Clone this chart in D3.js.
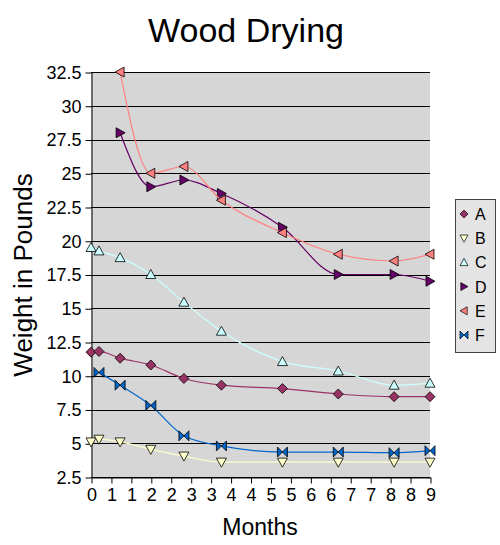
<!DOCTYPE html>
<html><head><meta charset="utf-8">
<script src="https://cdn.jsdelivr.net/npm/d3@7"></script>
<style>body{margin:0;background:#fff}text{font-family:"Liberation Sans",Arial,sans-serif;fill:#000}</style>
</head><body><svg id="c" width="500" height="545"></svg>
<script>
const months = [0, 0.2, 0.73, 1.5, 2.33, 3.27, 4.8, 6.2, 7.6, 8.5];
const seriesNames = ["A", "B", "C", "D", "E", "F"];
const seriesA = [11.75, 11.8, 11.3, 10.8, 9.8, 9.3, 9.05, 8.65, 8.45, 8.45];
const seriesB = [5.1, 5.3, 5.1, 4.55, 4.05, 3.6, 3.6, 3.6, 3.6, 3.6];
const seriesC = [19.5, 19.25, 18.75, 17.5, 15.45, 13.3, 11.05, 10.35, 9.3, 9.45];
const seriesD = [null, null, 28.0, 24.0, 24.5, 23.5, 21.0, 17.5, 17.5, 17.0];
const seriesE = [null, null, 32.5, 25.0, 25.5, 23.0, 20.6, 19.0, 18.5, 19.0];
const seriesF = [null, 10.25, 9.3, 7.8, 5.55, 4.8, 4.35, 4.35, 4.3, 4.45];
const xTickValues = [0, 0.5, 1, 1.5, 2, 2.5, 3, 3.5, 4, 4.5, 5, 5.5, 6, 6.5, 7, 7.5, 8, 8.5];
const xTickLabels = ["0","1","1","2","2","3","3","4","4","5","5","6","6","7","7","8","8","9"];
const yTickValues = [2.5, 5, 7.5, 10, 12.5, 15, 17.5, 20, 22.5, 25, 27.5, 30, 32.5];
const yTickLabels = ["2.5","5","7.5","10","12.5","15","17.5","20","22.5","25","27.5","30","32.5"];

const allSeries = [seriesA, seriesB, seriesC, seriesD, seriesE, seriesF];
const colors = ["#993366", "#FFFFCC", "#CCFFFF", "#660066", "#FF8080", "#0066CC"];
const shapes = ["diamond", "down", "up", "right", "left", "bowtie"];

const svg = d3.select("#c");
const L = 91, R = 430, T = 72, B = 477;
const x = d3.scaleLinear().domain([0, 8.5]).range([L, R]);
const y = d3.scaleLinear().domain([2.5, 32.5]).range([B, T]);

// plot area
svg.append("rect").attr("x", L).attr("y", T).attr("width", R - L).attr("height", B - T)
  .attr("fill", "#d6d6d6");

// gridlines
svg.append("g").selectAll("line").data(yTickValues).join("line")
  .attr("x1", L).attr("x2", R)
  .attr("y1", d => Math.round(y(d)) + 0.5).attr("y2", d => Math.round(y(d)) + 0.5)
  .attr("stroke", "#000").attr("stroke-width", 1);

// axes
const yAxis = d3.axisLeft(y).tickValues(yTickValues)
  .tickFormat((d, i) => yTickLabels[i]).tickSize(6).tickSizeOuter(0).tickPadding(4);
const gy = svg.append("g").attr("transform", `translate(${L + 0.5},0.5)`).call(yAxis);
gy.selectAll("text").attr("font-size", 18).attr("font-family", '"Liberation Sans",Arial,sans-serif');
gy.selectAll("line,path").attr("stroke", "#000");

const xAxis = d3.axisBottom(x).tickValues(xTickValues)
  .tickFormat((d, i) => xTickLabels[i]).tickSize(6).tickSizeOuter(0).tickPadding(5);
const gx = svg.append("g").attr("transform", `translate(0.5,${B + 0.5})`).call(xAxis);
gx.selectAll("text").attr("font-size", 18).attr("font-family", '"Liberation Sans",Arial,sans-serif');
gx.selectAll("line,path").attr("stroke", "#000");

// marker paths
function markerPath(shape, s) {
  const h = s / 2;
  switch (shape) {
    case "diamond": return `M0,${-h}L${h},0L0,${h}L${-h},0Z`;
    case "down": return `M${-h},${-h * 0.8}L${h},${-h * 0.8}L0,${h}Z`;
    case "up": return `M${-h},${h * 0.8}L${h},${h * 0.8}L0,${-h}Z`;
    case "right": return `M${-h * 0.8},${-h}L${h},0L${-h * 0.8},${h}Z`;
    case "left": return `M${h * 0.8},${-h}L${-h},0L${h * 0.8},${h}Z`;
    case "bowtie": return `M${-h},${-h}L0,0L${-h},${h}Z M${h},${-h}L0,0L${h},${h}Z`;
  }
}

const line = d3.line()
  .defined(d => d[1] != null)
  .x(d => x(d[0])).y(d => y(d[1]))
  .curve(d3.curveMonotoneX);

allSeries.forEach((vals, si) => {
  const pts = months.map((m, i) => [m, vals[i]]).filter(d => d[1] != null);
  const g = svg.append("g");
  g.append("path").datum(pts).attr("d", line)
    .attr("fill", "none").attr("stroke", colors[si]).attr("stroke-width", 1.2);
  g.selectAll("path.m").data(pts).join("path").attr("class", "m")
    .attr("transform", d => `translate(${x(d[0])},${y(d[1])})`)
    .attr("d", markerPath(shapes[si], 10))
    .attr("fill", colors[si]).attr("stroke", "#000").attr("stroke-width", 0.8)
    .attr("stroke-linejoin", "miter");
});

// title
svg.append("text").attr("x", 246).attr("y", 42).attr("text-anchor", "middle")
  .attr("font-size", 34).text("Wood Drying");
svg.append("text").attr("x", 260).attr("y", 535).attr("text-anchor", "middle")
  .attr("font-size", 23).text("Months");
svg.append("text").attr("transform", "translate(32,275) rotate(-90)").attr("text-anchor", "middle")
  .attr("font-size", 26).text("Weight in Pounds");

// legend
const lg = svg.append("g");
lg.append("rect").attr("x", 455.5).attr("y", 199.5).attr("width", 40).attr("height", 153)
  .attr("fill", "#e4e4e4").attr("stroke", "#444").attr("stroke-width", 1);
seriesNames.forEach((n, i) => {
  const cy = 214 + i * 24.2;
  lg.append("path").attr("transform", `translate(464,${cy})`)
    .attr("d", markerPath(shapes[i], 8))
    .attr("fill", colors[i]).attr("stroke", "#000").attr("stroke-width", 0.7);
  lg.append("text").attr("x", 475).attr("y", cy + 6).attr("font-size", 16).text(n);
});
</script></body></html>
